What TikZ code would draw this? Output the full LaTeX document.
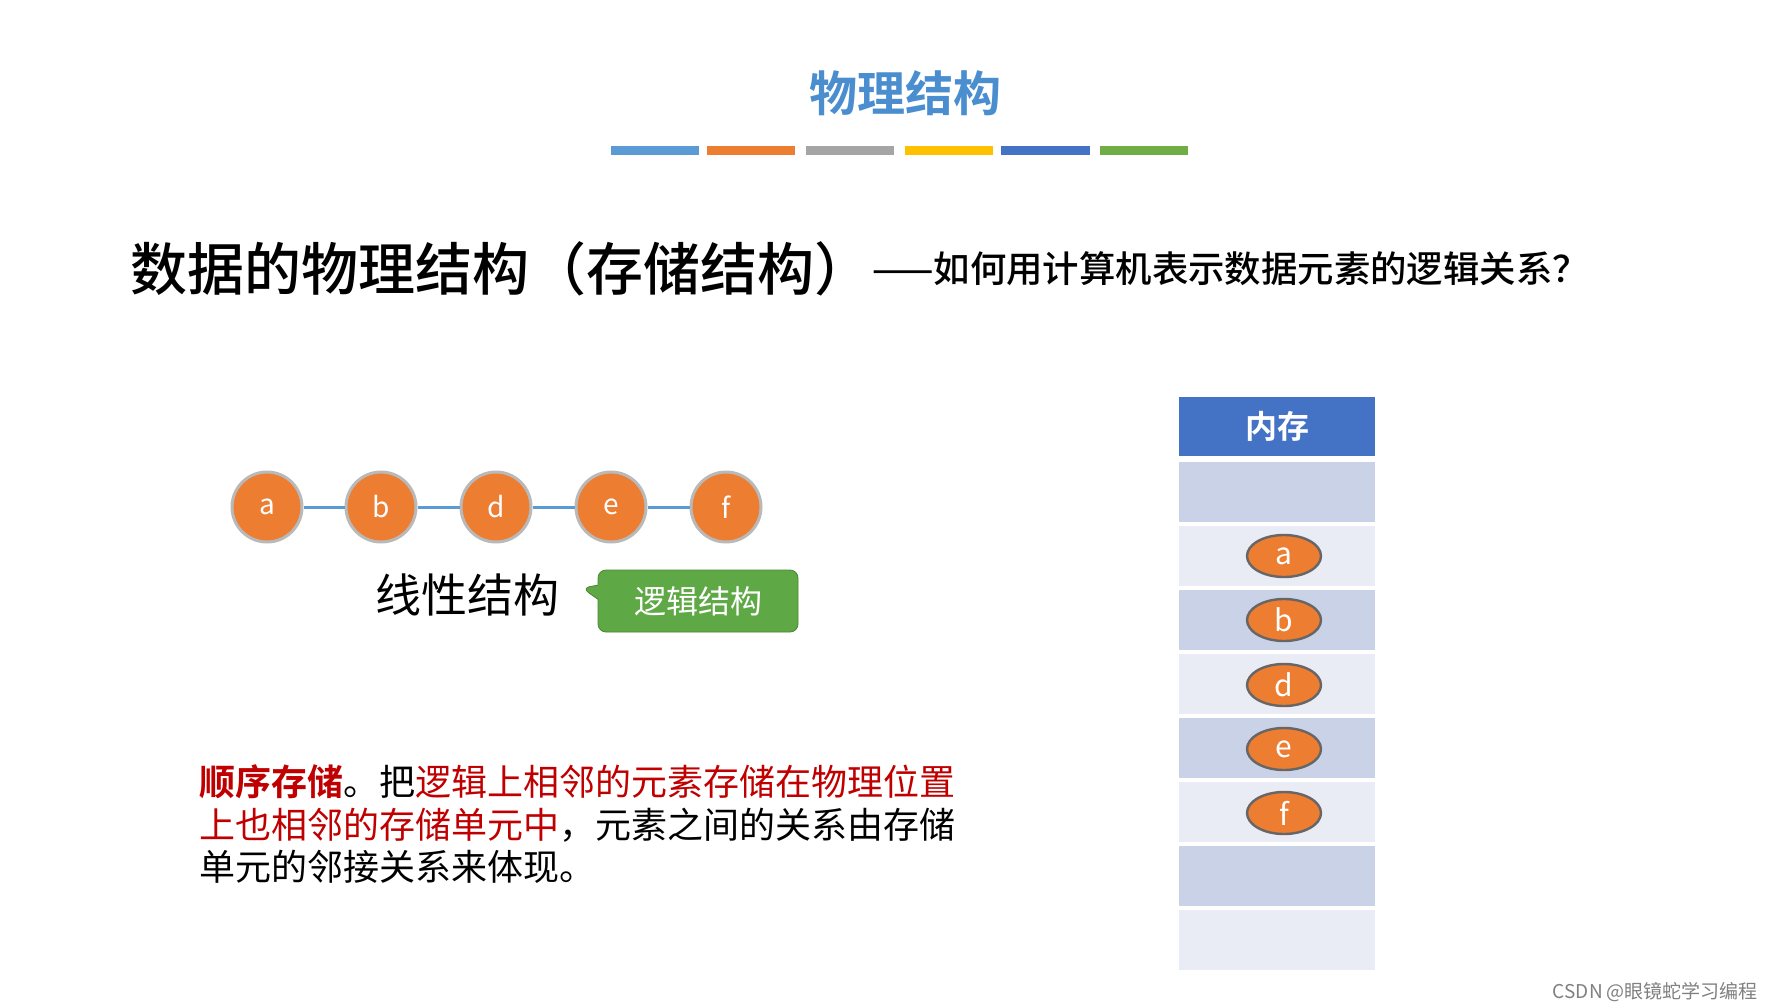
\documentclass[tikz,border=0pt]{standalone}
\usepackage{fontspec}
\setmainfont{Noto Sans CJK SC}
\newfontfamily\cjkb{Noto Sans CJK SC Bold}
\newfontfamily\cjkm{Noto Sans CJK SC Medium}
\usetikzlibrary{shapes.geometric,shapes.callouts}
\definecolor{tblue}{HTML}{4A8ED0}
\definecolor{b1}{HTML}{5B9BD5}
\definecolor{o1}{HTML}{ED7D31}
\definecolor{g1}{HTML}{A5A5A5}
\definecolor{y1}{HTML}{FFC000}
\definecolor{db}{HTML}{4472C4}
\definecolor{gr}{HTML}{70AD47}
\definecolor{cal}{HTML}{5EA845}
\definecolor{rowd}{HTML}{CAD2E8}
\definecolor{rowl}{HTML}{E9ECF5}
\definecolor{rd}{HTML}{C00000}
\tikzset{
 elem/.style={circle,fill=o1,draw=gray!55,line width=1.5pt,minimum size=35pt,inner sep=0pt,text=white,font=\fontsize{14}{14}\selectfont},
 melem/.style={ellipse,fill=o1,draw=gray!80!black,line width=1.2pt,minimum width=37pt,minimum height=21pt,inner sep=0pt,text=white,font=\fontsize{15}{15}\selectfont},
 bar/.style={line width=4.5pt},
 link/.style={draw=b1,line width=1.5pt}
}
\begin{document}
\begin{tikzpicture}[x=0.5pt,y=-0.5pt]
\useasboundingbox[fill=white] (0,0) rectangle (1771,1006);
\node[text=tblue,font=\cjkb\fontsize{24}{24}\selectfont] (title) at (905,93) {物理结构};
\foreach \a/\b/\c [count=\i] in {611/699/b1,707/795/o1,806/894/g1,905/993/y1,1001/1090/db,1100/1188/gr}
  \draw[bar,\c] (\a,150) -- (\b,150);
\node[anchor=west,inner sep=0pt,font=\cjkm\fontsize{28.5}{28.5}\selectfont] (head) at (130,269) {数据的物理结构（存储结构）};
\node[anchor=west,inner sep=0pt,font=\cjkm\fontsize{18.2}{18.2}\selectfont] (sub) at (head.east) {——如何用计算机表示数据元素的逻辑关系？};
\foreach \n/\x in {a/267,b/381,d/496,e/611,f/726} \node[elem] (c\n) at (\x,507) {\n};
\draw[link] (ca) -- (cb) (cb) -- (cd) (cd) -- (ce) (ce) -- (cf);
\node[font=\fontsize{23}{23}\selectfont] (lin) at (467,595) {线性结构};
\node[rectangle callout,rounded corners=4pt,fill=cal,draw=cal!80!black,text=white,minimum width=100pt,minimum height=31pt,font=\fontsize{16}{16}\selectfont,callout absolute pointer={(582,588)}] (log) at (698,601) {逻辑结构};
\begin{scope}[font=\fontsize{18}{18}\selectfont]
\node[anchor=west,inner sep=0pt] (p1) at (199,782) {\textcolor{rd}{\cjkb 顺序存储}。把\textcolor{rd}{逻辑上相邻的元素存储在物理位置}};
\node[anchor=west,inner sep=0pt] (p2) at (199,825) {\textcolor{rd}{上也相邻的存储单元中}，元素之间的关系由存储};
\node[anchor=west,inner sep=0pt] (p3) at (199,867) {单元的邻接关系来体现。};
\end{scope}
\node[fill=db,minimum width=98pt,minimum height=29.5pt,inner sep=0pt,text=white,font=\cjkb\fontsize{16}{16}\selectfont] (mem) at (1277,426.5) {内存};
\foreach \i in {0,...,7}{
  \pgfmathsetmacro\t{462+64*\i}
  \ifodd\i \def\cc{rowl}\else\def\cc{rowd}\fi
  \fill[\cc] (1179,\t) rectangle (1375,\t+60);
}
\foreach \n/\y in {a/556,b/620,d/685,e/749,f/813} \node[melem] (m\n) at (1284,\y) {\n};
\node[anchor=east,text=gray,font=\fontsize{9.5}{9.5}\selectfont] (wm) at (1765,992) {CSDN @眼镜蛇学习编程};
\end{tikzpicture}
\end{document}
